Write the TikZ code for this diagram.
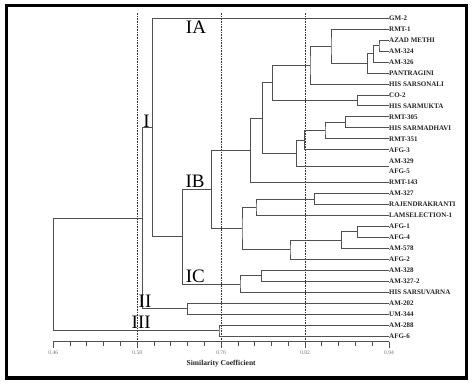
\documentclass[tikz,border=0pt]{standalone}
\usepackage{fontspec}
\setmainfont{Liberation Serif}
\definecolor{treegray}{RGB}{80,80,80}
\definecolor{labgray}{RGB}{35,35,35}
\begin{document}
\begin{tikzpicture}[x=1pt,y=-1pt,
  br/.style={draw=treegray, line width=0.9pt},
  leaf/.style={anchor=west, inner sep=0pt, text height=4.6pt, text depth=0pt,
    font=\fontsize{7}{8}\selectfont\bfseries, text=labgray},
  cl/.style={inner sep=0pt, font=\fontsize{19}{19}\selectfont, text=black},
  guide/.style={densely dotted, line width=0.6pt, draw=black!80},
  ticklab/.style={inner sep=0pt, font=\fontsize{5.5}{6}\selectfont, text=black!55},
  axlab/.style={inner sep=0pt, font=\fontsize{7.5}{8}\selectfont\bfseries, text=labgray}]
\useasboundingbox (0,0) rectangle (474,384);
\fill[white] (0,0) rectangle (474,384);
\draw[line width=3.3pt] (6.7,5.5) rectangle (466.5,378);

% guide lines
\draw[guide] (137,12.7) -- (137,341.7);
\draw[guide] (221,12.7) -- (221,341.7);
\draw[guide] (305.7,12.7) -- (305.7,341.7);

% leaves
\node[leaf] (L0) at (389,18.3) {GM-2};
\node[leaf] (L1) at (389,29.26) {RMT-1};
\node[leaf] (L2) at (389,40.21) {AZAD METHI};
\node[leaf] (L3) at (389,51.17) {AM-324};
\node[leaf] (L4) at (389,62.12) {AM-326};
\node[leaf] (L5) at (389,73.08) {PANTRAGINI};
\node[leaf] (L6) at (389,84.03) {HIS SARSONALI};
\node[leaf] (L7) at (389,94.99) {CO-2};
\node[leaf] (L8) at (389,105.94) {HIS SARMUKTA};
\node[leaf] (L9) at (389,116.90) {RMT-305};
\node[leaf] (L10) at (389,127.85) {HIS SARMADHAVI};
\node[leaf] (L11) at (389,138.81) {RMT-351};
\node[leaf] (L12) at (389,149.76) {AFG-3};
\node[leaf] (L13) at (389,160.72) {AM-329};
\node[leaf] (L14) at (389,171.67) {AFG-5};
\node[leaf] (L15) at (389,182.63) {RMT-143};
\node[leaf] (L16) at (389,193.58) {AM-327};
\node[leaf] (L17) at (389,204.54) {RAJENDRAKRANTI};
\node[leaf] (L18) at (389,215.49) {LAMSELECTION-1};
\node[leaf] (L19) at (389,226.45) {AFG-1};
\node[leaf] (L20) at (389,237.40) {AFG-4};
\node[leaf] (L21) at (389,248.36) {AM-578};
\node[leaf] (L22) at (389,259.31) {AFG-2};
\node[leaf] (L23) at (389,270.27) {AM-328};
\node[leaf] (L24) at (389,281.22) {AM-327-2};
\node[leaf] (L25) at (389,292.18) {HIS SARSUVARNA};
\node[leaf] (L26) at (389,303.13) {AM-202};
\node[leaf] (L27) at (389,314.09) {UM-344};
\node[leaf] (L28) at (389,325.04) {AM-288};
\node[leaf] (L29) at (389,336.0) {AFG-6};
\coordinate (m1314) at (389,166.2);

% internal nodes
\coordinate (na) at (379,45.69);
\coordinate (nb) at (373.3,53.91);
\coordinate (nc) at (367.7,63.49);
\coordinate (nd) at (331,46.38);
\coordinate (ne) at (310,65.21);
\coordinate (nf) at (357.3,100.47);
\coordinate (ng) at (272.7,82.84);
\coordinate (nh) at (345.7,122.38);
\coordinate (ni) at (325,130.6);
\coordinate (nj) at (304.3,140.18);
\coordinate (nk) at (296.3,153.19);
\coordinate (nl) at (262.5,118.02);
\coordinate (nm) at (250.7,150.33);
\coordinate (nn) at (314.3,199.06);
\coordinate (no) at (256,207.28);
\coordinate (np) at (357.3,231.93);
\coordinate (nq) at (341.7,240.15);
\coordinate (nr) at (290,249.73);
\coordinate (ns) at (242,228.5);
\coordinate (nt) at (211.3,189.42);
\coordinate (nu) at (261.7,275.75);
\coordinate (nv) at (240,283.97);
\coordinate (nw) at (182.3,236.7);
\coordinate (nx) at (152.3,127.5);
\coordinate (nII) at (187.3,308.61);
\coordinate (nI) at (142.3,218.06);
\coordinate (nIII) at (219,330.52);
\coordinate (root) at (53.3,274.29);

% branches
\draw[br] (L2.west) -| (na) |- (L3.west);
\draw[br] (na) -| (nb) |- (L4.west);
\draw[br] (nb) -| (nc) |- (L5.west);
\draw[br] (L1.west) -| (nd) |- (nc);
\draw[br] (nd) -| (ne) |- (L6.west);
\draw[br] (L7.west) -| (nf) |- (L8.west);
\draw[br] (ne) -| (ng) |- (nf);
\draw[br] (L9.west) -| (nh) |- (L10.west);
\draw[br] (nh) -| (ni) |- (L11.west);
\draw[br] (ni) -| (nj) |- (L12.west);
\draw[br] (nj) -| (nk) |- (m1314);
\draw[br] (ng) -| (nl) |- (nk);
\draw[br] (nl) -| (nm) |- (L15.west);
\draw[br] (L16.west) -| (nn) |- (L17.west);
\draw[br] (nn) -| (no) |- (L18.west);
\draw[br] (L19.west) -| (np) |- (L20.west);
\draw[br] (np) -| (nq) |- (L21.west);
\draw[br] (nq) -| (nr) |- (L22.west);
\draw[br] (no) -| (ns) |- (nr);
\draw[br] (nm) -| (nt) |- (ns);
\draw[br] (L23.west) -| (nu) |- (L24.west);
\draw[br] (nu) -| (nv) |- (L25.west);
\draw[br] (nt) -| (nw) |- (nv);
\draw[br] (L0.west) -| (nx) |- (nw);
\draw[br] (L26.west) -| (nII) |- (L27.west);
\draw[br] (nx) -| (nI) |- (nII);
\draw[br] (L28.west) -| (nIII) |- (L29.west);
\draw[br] (nI) -| (root) |- (nIII);

% cluster labels
\node[cl] (cIA) at (196,27) {IA};
\node[cl] (cI) at (146.5,121) {I};
\node[cl] (cIB) at (195,181.3) {IB};
\node[cl] (cIC) at (195.3,276) {IC};
\node[cl] (cII) at (145,301) {II};
\node[cl] (cIII) at (141.2,322.5) {III};

% axis
\draw[treegray, line width=0.8pt] (53.3,341.7) -- (389,341.7);
\foreach \i in {0,...,20}{
  \pgfmathsetmacro{\xx}{53.3+\i*16.785}
  \pgfmathtruncatemacro{\mm}{mod(\i,5)}
  \ifnum\mm=0
    \draw[treegray, line width=0.8pt] (\xx,341.7) -- (\xx,348);
  \else
    \draw[treegray, line width=0.8pt] (\xx,341.7) -- (\xx,345.5);
  \fi
}
\node[ticklab] (t1) at (53.3,352.7) {0.46};
\node[ticklab] (t2) at (137.2,352.7) {0.58};
\node[ticklab] (t3) at (221.1,352.7) {0.70};
\node[ticklab] (t4) at (305.1,352.7) {0.82};
\node[ticklab] (t5) at (389,352.7) {0.94};
\node[axlab] (ax) at (221.2,363.3) {Similarity Coefficient};
\end{tikzpicture}
\end{document}
